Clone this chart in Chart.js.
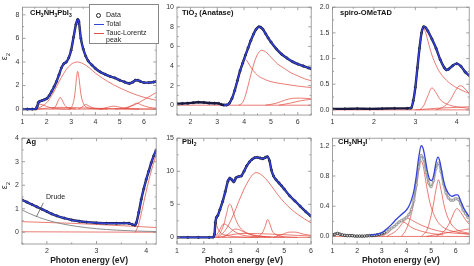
<!DOCTYPE html>
<html>
<head>
<meta charset="utf-8">
<title>Dielectric function fits</title>
<script src="https://cdn.jsdelivr.net/npm/chart.js@4.4.1/dist/chart.umd.min.js"></script>
<style>
  body { margin: 0; background: #fff; }
  #wrap { position: relative; width: 474px; height: 266px; overflow: hidden; font-family: "Liberation Sans", Arial, sans-serif; }
  canvas { position: absolute; }
  .tag { position: absolute; font-weight: bold; font-size: 7.5px; color: #111; white-space: nowrap; line-height: 1; }
  .tag sub { font-size: 5px; line-height: 0; vertical-align: -1.5px; }
  .eps { position: absolute; font-size: 9px; line-height: 1; color: #222; transform: rotate(-90deg); }
  .eps sub { font-size: 6px; line-height: 0; }
  .note { position: absolute; font-size: 7px; color: #222; line-height: 1; }
  #legend { position: absolute; left: 89px; top: 4px; width: 68px; height: 38px; border: 1px solid #888; background: #fff; font-size: 7px; color: #222; }
  #legend .row { position: absolute; left: 0; height: 8px; line-height: 8px; }
  #legend .sym { position: absolute; left: 4px; top: 4px; width: 10px; height: 0; border-top: 1px solid; }
  #legend .dot { position: absolute; left: 6px; top: 2px; width: 3px; height: 3px; border: 1px solid #222; border-radius: 50%; }
  #legend .txt { position: absolute; left: 16px; white-space: nowrap; }
</style>
</head>
<body>
<div id="wrap">
  <canvas id="mapi" width="161" height="128" style="left:0;top:0"></canvas>
  <canvas id="tio2" width="163" height="128" style="left:153px;top:0"></canvas>
  <canvas id="spiro" width="166" height="128" style="left:308px;top:0"></canvas>
  <canvas id="ag" width="161" height="135" style="left:0;top:131px"></canvas>
  <canvas id="pbi2" width="163" height="135" style="left:153px;top:131px"></canvas>
  <canvas id="mai" width="166" height="135" style="left:308px;top:131px"></canvas>

  <div class="tag" style="left:30px;top:9px">CH<sub>3</sub>NH<sub>3</sub>PbI<sub>3</sub></div>
  <div class="tag" style="left:182px;top:9px">TiO<sub>2</sub> (Anatase)</div>
  <div class="tag" style="left:340px;top:9px">spiro-OMeTAD</div>
  <div class="tag" style="left:26px;top:138px">Ag</div>
  <div class="tag" style="left:182px;top:138px">PbI<sub>2</sub></div>
  <div class="tag" style="left:338px;top:138px">CH<sub>3</sub>NH<sub>3</sub>I</div>

  <div class="eps" style="left:1px;top:52px">ε<sub>2</sub></div>
  <div class="eps" style="left:1px;top:181px">ε<sub>2</sub></div>
  <div class="note" style="left:46px;top:193px">Drude</div>

  <div id="legend">
    <div class="row" style="top:6px"><span class="dot"></span><span class="txt">Data</span></div>
    <div class="row" style="top:15px"><span class="sym" style="border-color:#3344dd"></span><span class="txt">Total</span></div>
    <div class="row" style="top:24px"><span class="sym" style="border-color:#e0524a"></span><span class="txt">Tauc-Lorentz</span></div>
    <div class="row" style="top:31px"><span class="txt">peak</span></div>
  </div>
</div>

<script>
// values, [photon energy (eV), eps2]

// CH3NH3PbI3
const mapiXTicks = [1, 2, 3, 4, 5, 6];
const mapiYTicks = [0, 2, 4, 6, 8];
const mapiData = [[1.0,0],[1.2,0],[1.4,0],[1.55,0.02],[1.6,0.2],[1.65,0.55],[1.7,0.65],[1.8,0.72],[1.9,0.8],[2.0,0.9],
  [2.1,1.15],[2.2,1.5],[2.3,1.9],[2.4,2.35],[2.5,2.9],[2.6,3.5],[2.7,3.85],[2.8,4.0],[2.9,4.35],[3.0,5.0],[3.1,6.1],
  [3.2,7.2],[3.27,7.6],[3.32,7.4],[3.4,6.0],[3.5,5.1],[3.6,4.5],[3.7,4.1],[3.85,3.75],[4.0,3.45],[4.2,3.15],[4.4,2.95],
  [4.6,2.78],[4.8,2.65],[5.0,2.45],[5.2,2.3],[5.4,2.18],[5.55,2.3],[5.65,2.45],[5.75,2.45],[5.85,2.35],[6.0,2.25],
  [6.2,2.25],[6.4,2.3],[6.5,2.35]];
const mapiTotal = mapiData;
const mapiPeaks = [
  [[1.6,0],[1.8,0.25],[2.0,0.55],[2.2,1.15],[2.4,1.9],[2.6,2.7],[2.8,3.35],[3.0,3.8],[3.25,4.0],[3.5,3.85],[3.75,3.5],[4.0,3.05],[4.5,2.35],[5.0,1.8],[5.5,1.35],[6.0,1.0],[6.5,0.75]],
  [[2.9,0],[3.05,0.3],[3.15,1.2],[3.22,2.6],[3.27,3.2],[3.32,2.7],[3.4,1.3],[3.5,0.5],[3.65,0.15],[3.9,0.05],[4.5,0]],
  [[2.2,0],[2.35,0.2],[2.5,0.85],[2.55,1.0],[2.62,0.8],[2.75,0.3],[2.9,0.1],[3.2,0.02]],
  [[1.58,0],[1.65,0.3],[1.75,0.4],[1.9,0.3],[2.1,0.15],[2.4,0.05],[3.0,0]],
  [[3.3,0],[3.5,0.25],[3.6,0.4],[3.7,0.3],[3.9,0.1],[4.3,0]],
  [[4.2,0],[4.6,0.2],[4.75,0.25],[4.9,0.2],[5.3,0.05],[5.8,0]],
  [[5.2,0],[5.5,0.3],[5.7,0.5],[5.9,0.35],[6.2,0.15],[6.5,0.08]],
  [[4.8,0],[5.2,0.1],[5.6,0.35],[6.0,0.8],[6.5,1.4]],
  [[1.6,0],[2.5,0.15],[3.5,0.1],[4.5,0.05],[6.5,0]],
  [[1.0,0],[6.5,0]]
];

// TiO2 (anatase)
const tio2XTicks = [2, 3, 4, 5, 6];
const tio2YTicks = [0, 2, 4, 6, 8, 10];
const tio2Data = [[1.5,0.15],[1.7,0.18],[1.9,0.2],[2.1,0.25],[2.3,0.3],[2.5,0.28],[2.7,0.22],[2.9,0.2],[3.05,0.18],
  [3.15,0.08],[3.25,0.02],[3.35,0.02],[3.45,0.2],[3.55,0.7],[3.65,1.5],[3.75,2.5],[3.85,3.5],[3.95,4.3],[4.05,5.1],
  [4.15,5.85],[4.25,6.6],[4.35,7.25],[4.45,7.75],[4.55,8.0],[4.62,7.95],[4.7,7.75],[4.8,7.3],[4.9,6.85],[5.0,6.45],
  [5.2,5.75],[5.4,5.2],[5.6,4.8],[5.8,4.45],[6.0,4.2],[6.2,4.0],[6.4,3.8],[6.5,3.72]];
const tio2Total = [[3.25,0.02],[3.35,0.02],[3.45,0.2],[3.55,0.7],[3.65,1.5],[3.75,2.5],[3.85,3.5],[3.95,4.3],[4.05,5.1],
  [4.15,5.85],[4.25,6.6],[4.35,7.25],[4.45,7.75],[4.55,8.0],[4.62,7.95],[4.7,7.75],[4.8,7.3],[4.9,6.85],[5.0,6.45],
  [5.2,5.75],[5.4,5.2],[5.6,4.8],[5.8,4.45],[6.0,4.2],[6.2,4.0],[6.4,3.8],[6.5,3.72]];
const tio2Peaks = [
  [[3.35,0],[3.5,0.4],[3.6,1.1],[3.7,2.0],[3.8,3.1],[3.9,4.1],[4.0,4.75],[4.1,4.55],[4.2,4.1],[4.35,3.5],[4.5,3.05],[4.8,2.6],[5.0,2.4],[5.5,2.15],[6.0,1.95],[6.5,1.8]],
  [[3.8,0],[3.95,0.3],[4.05,1.0],[4.15,2.0],[4.25,3.1],[4.35,4.1],[4.45,4.9],[4.55,5.4],[4.65,5.6],[4.8,5.45],[5.0,4.9],[5.25,4.2],[5.5,3.75],[5.75,3.3],[6.0,3.0],[6.25,2.7],[6.5,2.5]],
  [[4.8,0],[5.2,0.2],[5.5,0.5],[5.8,0.7],[6.1,0.72],[6.5,0.65]],
  [[5.3,0],[5.7,0.2],[6.1,0.45],[6.5,0.6]],
  [[1.5,0],[6.5,0]]
];

// spiro-OMeTAD
const spiroXTicks = [1, 2, 3, 4];
const spiroYTicks = [0, 0.5, 1.0, 1.5, 2.0];
const spiroData = [[1.0,0.02],[1.3,0.02],[1.6,0.025],[1.9,0.02],[2.2,0.025],[2.5,0.03],[2.8,0.03],[2.9,0.04],[2.95,0.18],
  [3.0,0.44],[3.05,0.82],[3.1,1.2],[3.15,1.5],[3.2,1.62],[3.25,1.6],[3.3,1.54],[3.4,1.38],[3.5,1.2],[3.6,0.98],
  [3.7,0.82],[3.75,0.78],[3.8,0.79],[3.9,0.86],[4.0,0.9],[4.1,0.85],[4.2,0.74],[4.3,0.67]];
const spiroTotal = [[2.85,0.03],[2.9,0.04],[2.95,0.18],[3.0,0.44],[3.05,0.82],[3.1,1.2],[3.15,1.5],[3.2,1.62],[3.25,1.6],
  [3.3,1.54],[3.4,1.38],[3.5,1.2],[3.6,0.98],[3.7,0.82],[3.75,0.78],[3.8,0.79],[3.9,0.86],[4.0,0.9],[4.1,0.85],
  [4.2,0.74],[4.3,0.67]];
const spiroPeaks = [
  [[2.88,0],[2.95,0.2],[3.0,0.45],[3.05,0.85],[3.1,1.2],[3.15,1.48],[3.2,1.58],[3.25,1.5],[3.3,1.35],[3.4,1.07],[3.5,0.87],[3.6,0.72],[3.8,0.54],[4.0,0.43],[4.3,0.32]],
  [[3.1,0],[3.2,0.08],[3.3,0.27],[3.4,0.43],[3.5,0.33],[3.6,0.2],[3.8,0.1],[4.0,0.06],[4.3,0.03]],
  [[3.5,0],[3.7,0.07],[3.85,0.2],[3.95,0.35],[4.05,0.46],[4.1,0.47],[4.2,0.41],[4.3,0.32]],
  [[3.0,0],[3.5,0.03],[4.0,0.05],[4.3,0.06]],
  [[1.0,0],[4.3,0]]
];

// Ag
const agXTicks = [2, 3, 4];
const agYTicks = [0, 1, 2, 3, 4];
const agData = [[1.5,1.38],[1.6,1.28],[1.7,1.18],[1.8,1.08],[1.9,0.98],[2.0,0.88],[2.1,0.78],[2.2,0.7],[2.35,0.6],
  [2.5,0.52],[2.65,0.47],[2.8,0.43],[3.0,0.4],[3.2,0.38],[3.4,0.38],[3.55,0.39],[3.65,0.38],[3.72,0.33],[3.77,0.3],
  [3.8,0.4],[3.85,0.85],[3.9,1.4],[3.95,1.85],[4.0,2.25],[4.05,2.6],[4.1,2.95],[4.15,3.25],[4.2,3.5]];
const agTotal = agData;
const agDrude = [[1.5,0.95],[1.7,0.75],[2.0,0.52],[2.3,0.36],[2.6,0.25],[3.0,0.15],[3.4,0.09],[3.8,0.05],[4.2,0.03]];
const agPeaks = [
  [[1.5,0.45],[2.5,0.38],[3.5,0.28],[4.2,0.2]],
  [[1.5,0.02],[4.2,0]],
  [[3.78,0],[3.85,0.35],[3.9,0.8],[4.0,1.75],[4.1,2.6],[4.2,3.3]]
];

// PbI2
const pbi2XTicks = [1, 2, 3, 4, 5, 6];
const pbi2YTicks = [0, 5, 10, 15];
const pbi2Data = [[1.0,0],[1.4,0],[1.8,0],[2.2,0],[2.35,0.05],[2.4,0.5],[2.43,2.2],[2.47,3.0],[2.52,3.3],[2.6,4.2],
  [2.7,5.4],[2.8,6.9],[2.9,8.5],[2.97,8.95],[3.05,8.7],[3.12,8.4],[3.2,9.0],[3.3,9.2],[3.4,9.3],[3.5,10.0],[3.6,10.8],
  [3.7,11.4],[3.8,11.8],[3.9,12.05],[4.0,12.1],[4.1,12.0],[4.2,11.9],[4.3,12.1],[4.37,12.2],[4.45,11.6],[4.52,10.2],
  [4.6,9.3],[4.7,8.7],[4.8,8.25],[4.9,7.8],[5.0,7.3],[5.2,6.3],[5.4,5.5],[5.6,4.7],[5.8,3.9],[6.0,3.2]];
const pbi2Total = pbi2Data;
const pbi2Peaks = [
  [[2.5,0],[2.7,0.6],[2.9,1.7],[3.1,3.4],[3.3,5.4],[3.5,7.3],[3.7,8.8],[3.85,9.6],[3.95,9.8],[4.1,9.6],[4.3,8.9],[4.5,7.9],[4.75,6.5],[5.0,5.3],[5.25,4.3],[5.5,3.5],[5.75,2.8],[6.0,2.2]],
  [[2.45,0],[2.6,0.6],[2.75,2.0],[2.85,3.6],[2.95,5.0],[3.02,4.8],[3.1,3.8],[3.2,2.6],[3.35,1.5],[3.55,0.8],[3.8,0.4],[4.2,0.15],[5.0,0.05]],
  [[2.4,0],[2.55,0.8],[2.7,1.9],[2.78,2.0],[2.9,1.7],[3.1,1.0],[3.4,0.4],[3.8,0.15],[4.5,0.05]],
  [[2.38,0],[2.42,1.5],[2.45,2.3],[2.5,1.6],[2.6,0.8],[2.8,0.35],[3.2,0.1],[4.0,0]],
  [[2.7,0],[2.95,0.6],[3.15,1.25],[3.3,1.2],[3.5,0.8],[3.8,0.35],[4.3,0.1]],
  [[4.0,0],[4.2,0.8],[4.3,1.8],[4.38,2.7],[4.45,2.2],[4.55,1.0],[4.7,0.4],[5.0,0.1],[5.5,0]],
  [[4.6,0],[4.9,0.4],[5.2,0.8],[5.4,0.8],[5.7,0.5],[6.0,0.3]],
  [[2.5,0],[3.5,0.6],[4.5,0.5],[5.5,0.3],[6.0,0.2]],
  [[1.0,0],[6.0,0]]
];

// CH3NH3I
const maiXTicks = [1, 2, 3, 4, 5, 6];
const maiYTicks = [0, 0.4, 0.8, 1.2];
const maiData = [[1.0,0.02],[1.1,0.03],[1.2,0.04],[1.3,0.03],[1.4,0.02],[1.5,0.015],[1.6,0.01],[1.7,0.01],[1.8,0.01],
  [1.9,0.005],[2.0,0.005],[2.1,0.005],[2.2,0.005],[2.3,0.005],[2.4,0.008],[2.5,0.01],[2.6,0.012],[2.7,0.015],[2.8,0.02],
  [2.9,0.025],[3.0,0.035],[3.1,0.05],[3.2,0.07],[3.3,0.09],[3.4,0.11],[3.5,0.13],[3.6,0.16],[3.7,0.19],[3.8,0.21],
  [3.9,0.23],[4.0,0.25],[4.1,0.29],[4.2,0.36],[4.3,0.48],[4.4,0.68],[4.5,0.92],[4.6,1.07],[4.7,1.02],[4.8,0.85],
  [4.9,0.71],[5.0,0.66],[5.1,0.74],[5.2,0.9],[5.3,0.97],[5.4,0.86],[5.5,0.7],[5.6,0.58],[5.7,0.51],[5.8,0.48],
  [5.9,0.48],[6.0,0.5],[6.1,0.49],[6.2,0.43],[6.3,0.35],[6.4,0.3],[6.5,0.25]];
const maiTotal = [[2.5,0.015],[2.8,0.03],[3.0,0.05],[3.2,0.1],[3.4,0.16],[3.6,0.23],[3.8,0.29],[4.0,0.35],[4.1,0.4],
  [4.2,0.48],[4.3,0.6],[4.4,0.8],[4.5,1.05],[4.6,1.2],[4.67,1.17],[4.75,1.05],[4.85,0.86],[4.95,0.75],[5.03,0.74],
  [5.12,0.83],[5.2,0.98],[5.28,1.05],[5.35,1.0],[5.45,0.83],[5.55,0.68],[5.7,0.57],[5.85,0.53],[6.0,0.55],[6.08,0.55],
  [6.2,0.47],[6.35,0.36],[6.55,0.26]];
const maiPeaks = [
  [[3.8,0],[4.0,0.1],[4.2,0.3],[4.35,0.55],[4.5,0.88],[4.6,1.0],[4.68,0.93],[4.8,0.7],[4.95,0.45],[5.1,0.3],[5.3,0.18],[5.6,0.1],[6.0,0.06],[6.55,0.03]],
  [[4.6,0],[4.85,0.1],[5.05,0.35],[5.2,0.62],[5.3,0.75],[5.4,0.62],[5.55,0.38],[5.75,0.2],[6.0,0.1],[6.55,0.04]],
  [[5.2,0],[5.5,0.06],[5.75,0.18],[5.95,0.33],[6.05,0.37],[6.2,0.32],[6.4,0.22],[6.55,0.16]],
  [[3.0,0],[3.3,0.06],[3.55,0.15],[3.75,0.2],[3.95,0.18],[4.2,0.12],[4.6,0.07],[5.0,0.04],[5.5,0.02]],
  [[3.2,0],[3.6,0.08],[3.9,0.2],[4.05,0.24],[4.3,0.2],[4.6,0.15],[5.0,0.1],[5.5,0.06],[6.55,0.03]],
  [[4.8,0],[5.5,0.04],[6.0,0.07],[6.55,0.1]],
  [[1.0,0],[6.55,0]]
];

const BLUE = '#3344dd';
const DARK = '#1a1a40';
const RED = 'rgba(226, 72, 62, 0.9)';
const AXIS = '#8a8a8a';

Chart.defaults.font.family = '"Liberation Sans", Arial, sans-serif';
Chart.defaults.color = '#333';

// box axis with inward major + minor ticks on all four sides
const frame = {
  id: 'frame',
  afterDraw(chart) {
    const { ctx, chartArea: a, scales } = chart;
    ctx.save();
    ctx.strokeStyle = AXIS;
    ctx.lineWidth = 0.8;
    ctx.strokeRect(a.left, a.top, a.right - a.left, a.bottom - a.top);
    ctx.beginPath();
    ['x', 'y'].forEach(k => {
      const s = scales[k];
      const vals = s.ticks.map(t => t.value);
      const step = vals[1] - vals[0];
      for (let i = -2; i < 60; i++) {
        const v = vals[0] + i * step / 2;
        if (v > s.max + 1e-9) break;
        if (v < s.min - 1e-9) continue;
        const len = i % 2 === 0 ? 3 : 1.6;
        const p = s.getPixelForValue(v);
        if (k === 'x') {
          ctx.moveTo(p, a.bottom); ctx.lineTo(p, a.bottom - len);
          ctx.moveTo(p, a.top); ctx.lineTo(p, a.top + len);
        } else {
          ctx.moveTo(a.left, p); ctx.lineTo(a.left + len, p);
          ctx.moveTo(a.right, p); ctx.lineTo(a.right - len, p);
        }
      }
    });
    ctx.stroke();
    ctx.restore();
  }
};

// leader line from the "Drude" note down to the Drude curve
const drudeLeader = {
  id: 'drudeLeader',
  afterDatasetsDraw(chart) {
    const { ctx, scales: { x, y } } = chart;
    ctx.save();
    ctx.strokeStyle = '#444';
    ctx.lineWidth = 0.7;
    ctx.beginPath();
    ctx.moveTo(x.getPixelForValue(1.93), y.getPixelForValue(1.25));
    ctx.lineTo(x.getPixelForValue(1.79), y.getPixelForValue(0.66));
    ctx.stroke();
    ctx.restore();
  }
};

function buildSets(data, total, peaks, opts = {}) {
  const sets = [];
  sets.push({ label: 'Total', data: total, borderColor: BLUE, borderWidth: 1.3, pointRadius: 0 });
  if (opts.greyData) {
    const early = c => (c.raw && c.raw[0] < 3.2 ? '#222' : '#8c8c8c');
    sets.push({
      label: 'Data', data, borderWidth: 2.2,
      segment: { borderColor: c => (c.p0.parsed.x < 3.2 ? '#333' : 'rgba(150,150,150,0.85)') },
      pointRadius: 1.3, pointBorderWidth: 0.7,
      pointBackgroundColor: '#d8d8d8', pointBorderColor: early
    });
  } else {
    sets.push({
      label: 'Data', data, borderColor: DARK, borderWidth: 2.4, pointRadius: 1.1,
      pointBorderColor: DARK, pointBackgroundColor: 'transparent', pointBorderWidth: 0.8
    });
  }
  if (opts.drude) {
    sets.push({ label: 'Drude', data: opts.drude, borderColor: '#808080', borderWidth: 0.9, pointRadius: 0 });
  }
  peaks.forEach(p => {
    sets.push({ label: 'Tauc-Lorentz peak', data: p, borderColor: RED, borderWidth: 0.8, pointRadius: 0 });
  });
  return sets;
}

// box = chart area in canvas pixels: left, top, right, bottom
function makePanel(id, box, xr, yr, xTicks, yTicks, sets, opts = {}) {
  const canvas = document.getElementById(id);
  const fmt = opts.decimals ? v => v.toFixed(opts.decimals) : v => String(v);
  return new Chart(canvas, {
    type: 'line',
    data: { datasets: sets },
    plugins: [frame].concat(opts.plugins || []),
    options: {
      responsive: false,
      animation: false,
      events: [],
      layout: { padding: { top: box.top, right: canvas.width - box.right, left: 0, bottom: 0 } },
      elements: { line: { cubicInterpolationMode: 'monotone', fill: false } },
      plugins: { legend: { display: false }, tooltip: { enabled: false } },
      scales: {
        x: {
          type: 'linear', min: xr[0], max: xr[1],
          grid: { display: false, drawTicks: false }, border: { display: false },
          afterBuildTicks: s => { s.ticks = xTicks.map(v => ({ value: v })); },
          afterFit: s => { s.height = canvas.height - box.bottom; },
          ticks: { padding: 3, font: { size: 7 }, maxRotation: 0, callback: v => String(v) },
          title: {
            display: !!opts.xTitle, text: opts.xTitle || '', padding: 0,
            font: { size: 8.5, weight: 'bold' }, color: '#222'
          }
        },
        y: {
          type: 'linear', min: yr[0], max: yr[1],
          grid: { display: false, drawTicks: false }, border: { display: false },
          afterBuildTicks: s => { s.ticks = yTicks.map(v => ({ value: v })); },
          afterFit: s => { s.width = box.left; },
          ticks: { padding: 3, font: { size: 7 }, callback: fmt }
        }
      }
    }
  });
}

const xTitle = 'Photon energy (eV)';

makePanel('mapi', { left: 22.5, top: 3, right: 158.5, bottom: 115 }, [1, 6.5], [-0.5, 8.65],
  mapiXTicks, mapiYTicks, buildSets(mapiData, mapiTotal, mapiPeaks));
makePanel('tio2', { left: 24, top: 3, right: 161, bottom: 115 }, [1.5, 6.5], [-1, 10],
  tio2XTicks, tio2YTicks, buildSets(tio2Data, tio2Total, tio2Peaks));
makePanel('spiro', { left: 24.5, top: 3, right: 165, bottom: 115 }, [1, 4.3], [-0.1, 2.0],
  spiroXTicks, spiroYTicks, buildSets(spiroData, spiroTotal, spiroPeaks), { decimals: 1 });
makePanel('ag', { left: 22, top: 3, right: 159, bottom: 113 }, [1.5, 4.2], [-0.5, 4],
  agXTicks, agYTicks, buildSets(agData, agTotal, agPeaks, { drude: agDrude }),
  { xTitle, plugins: [drudeLeader] });
makePanel('pbi2', { left: 24, top: 3, right: 161, bottom: 113 }, [1, 6], [-1, 15],
  pbi2XTicks, pbi2YTicks, buildSets(pbi2Data, pbi2Total, pbi2Peaks), { xTitle });
makePanel('mai', { left: 24.5, top: 3, right: 165, bottom: 113 }, [1, 6.55], [-0.1, 1.3],
  maiXTicks, maiYTicks, buildSets(maiData, maiTotal, maiPeaks, { greyData: true }),
  { xTitle, decimals: 1 });
</script>
</body>
</html>
